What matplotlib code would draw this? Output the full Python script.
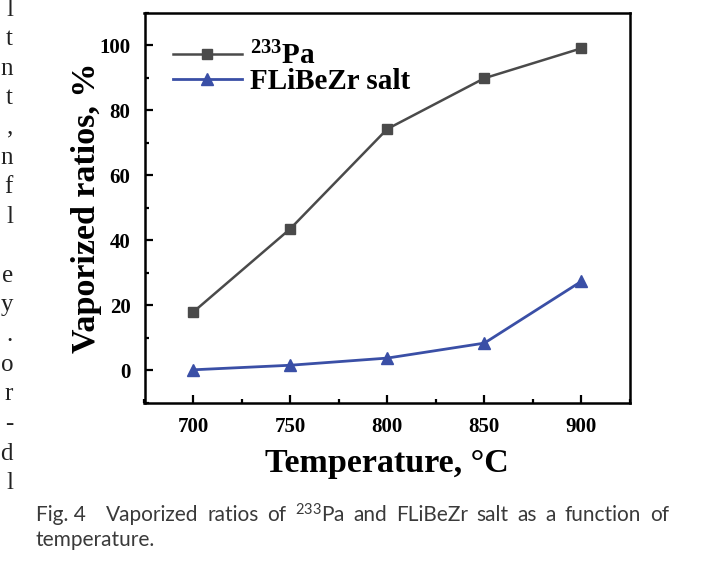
import matplotlib
matplotlib.use("Agg")
import matplotlib.pyplot as plt
from matplotlib.ticker import MultipleLocator

# data
temps = [700, 750, 800, 850, 900]
pa233 = [17.9, 43.5, 74.2, 89.8, 99.0]
salt = [0.2, 1.6, 3.8, 8.4, 27.4]
x_ticks = [700, 750, 800, 850, 900]
y_ticks = [0, 20, 40, 60, 80, 100]

# cut-off letters of the neighbouring text column
side_letters = ["l", "t", "n", "t", ",", "n", "f", "l", "", "e", "y", ".", "o", "r", "-", "d", "l"]

caption_words = ["Vaporized", "ratios", "of", r"$\mathregular{^{233}}$Pa", "and",
                 "FLiBeZr", "salt", "as", "a", "function", "of"]

serif = "Liberation Serif"
plt.rcParams["mathtext.fontset"] = "custom"
plt.rcParams["mathtext.rm"] = serif
plt.rcParams["mathtext.bf"] = serif + ":bold"

W, H = 707, 584
fig = plt.figure(figsize=(W / 100, H / 100), dpi=100)
ax = fig.add_axes([144.5 / W, 1 - 403 / H, 485.5 / W, 390.5 / H])

ax.plot(temps, pa233, color="#4a4a4a", lw=1.8, marker="s", ms=6.5,
        label=r"$\mathbf{^{233}}$Pa")
ax.plot(temps, salt, color="#3a4fa6", lw=2.0, marker="^", ms=8.5,
        label="FLiBeZr salt")

ax.set_xlim(675, 925)
ax.set_ylim(-10, 110)
ax.set_xticks(x_ticks)
ax.set_yticks(y_ticks)
ax.xaxis.set_minor_locator(MultipleLocator(25))
ax.yaxis.set_minor_locator(MultipleLocator(10))
ax.tick_params(which="both", direction="in", width=1.6, top=False, right=False)
ax.tick_params(which="major", length=6, pad=10)
ax.tick_params(which="minor", length=3)
for lab in ax.get_xticklabels() + ax.get_yticklabels():
    lab.set_fontfamily(serif)
    lab.set_fontweight("bold")
    lab.set_fontsize(15)
for sp in ax.spines.values():
    sp.set_linewidth(1.8)

ax.set_xlabel("Temperature, \u00b0C", fontfamily=serif, fontweight="bold",
              fontsize=24.5, labelpad=8)
ax.set_ylabel("Vaporized ratios, %", fontfamily=serif, fontweight="bold",
              fontsize=24.5)
ax.yaxis.set_label_coords(-0.087, 0.5)

ax.legend(loc="upper left", frameon=False, handlelength=2.36,
          handletextpad=0.27, labelspacing=-0.08, borderpad=0,
          borderaxespad=0, bbox_to_anchor=(28.5 / 485.5, 0.924),
          prop={"family": serif, "weight": "bold", "size": 21})

# neighbouring page text, cut at the left edge
for i, ch in enumerate(side_letters):
    fig.text(13 / W, 1 - (9.5 + i * 29.6) / H, ch, fontfamily=serif,
             fontsize=18, va="center", ha="right", color="#222222")

# caption, first line justified between the margins
cap_y1 = 1 - 515 / H
cap_y2 = 1 - 540 / H
cap_kw = dict(fontfamily="Lato", fontsize=15, va="center", ha="left",
              color="#3a3a3a")
fig.text(35.5 / W, cap_y1, "Fig. 4", **cap_kw)
texts = [fig.text(0, cap_y1, w, **cap_kw) for w in caption_words]
renderer = fig.canvas.get_renderer()
widths = [t.get_window_extent(renderer).width for t in texts]
x0, x1 = 106, 669
gap = (x1 - x0 - sum(widths)) / (len(texts) - 1)
x = x0
for t, w in zip(texts, widths):
    t.set_x(x / W)
    x += w + gap
fig.text(35.5 / W, cap_y2, "temperature.", **cap_kw)

fig.savefig("out.png", dpi=100)
